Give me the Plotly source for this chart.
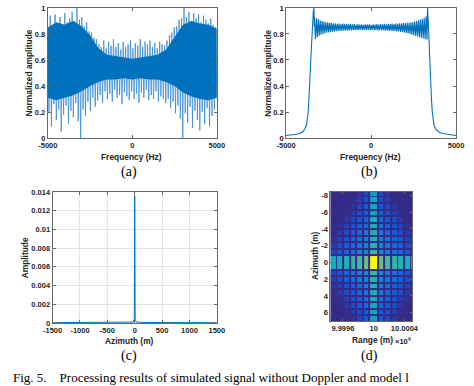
import numpy as np
import plotly.graph_objects as go

# ---------------- data ----------------
# (a) raw spectrum: upper spike tips and lower spike tips (alternating samples)
a_spike_high = [0.82, 0.94, 0.86, 0.95, 0.88, 0.93, 0.87, 0.96, 0.89, 0.92, 0.97, 0.90,
                1.00,
                0.91, 0.93, 0.86, 0.89, 0.82, 0.81, 0.77, 0.76,
                0.72, 0.70, 0.75, 0.69, 0.74, 0.71, 0.76, 0.70, 0.73, 0.68, 0.74, 0.70,
                0.72, 0.75, 0.69, 0.73, 0.71, 0.76, 0.70, 0.74, 0.72, 0.75, 0.70, 0.73,
                0.69, 0.74, 0.72, 0.71,
                0.75, 0.79, 0.81, 0.85, 0.86, 0.91, 0.92,
                1.00,
                0.93, 0.97, 0.90, 0.96, 0.92, 0.95, 0.89, 0.94, 0.91, 0.88, 0.92, 0.87, 0.85]
a_spike_low = [0.20, 0.09, 0.26, 0.14, 0.22, 0.05, 0.18, 0.25, 0.11, 0.21, 0.16, 0.27, 0.13,
               0.00,
               0.22, 0.17, 0.28, 0.21, 0.31, 0.24, 0.29,
               0.33, 0.27, 0.36, 0.30, 0.34, 0.28, 0.37, 0.31, 0.33, 0.26, 0.35, 0.32,
               0.29, 0.36, 0.30, 0.34, 0.27, 0.35, 0.31, 0.37, 0.29, 0.33, 0.30, 0.36,
               0.28, 0.32, 0.30, 0.27,
               0.30, 0.23, 0.28, 0.19, 0.25, 0.15,
               0.00,
               0.19, 0.12, 0.24, 0.08, 0.21, 0.14, 0.06, 0.20, 0.11, 0.23, 0.09, 0.17, 0.22, 0.30]
a_core_freq = [-5000, -4500, -4000, -3500, -3000, -2500, -2000, -1500, -1000, -500, 0,
               500, 1000, 1500, 2000, 2500, 3000, 3500, 4000, 4500, 5000]
a_core_upper = [0.85, 0.89, 0.87, 0.90, 0.86, 0.79, 0.69, 0.64, 0.63, 0.62, 0.61,
                0.62, 0.63, 0.64, 0.68, 0.78, 0.87, 0.90, 0.88, 0.87, 0.84]
a_core_lower = [0.31, 0.29, 0.31, 0.33, 0.36, 0.40, 0.43, 0.45, 0.45, 0.46, 0.45,
                0.46, 0.45, 0.45, 0.43, 0.40, 0.35, 0.32, 0.30, 0.29, 0.31]

# (b) compensated spectrum
b_left_freq = [-5000, -4800, -4600, -4400, -4200, -4100, -4000, -3900, -3800, -3700,
               -3650, -3600, -3550, -3500, -3450, -3400, -3360, -3345]
b_left_amp = [0.02, 0.022, 0.025, 0.03, 0.035, 0.042, 0.05, 0.07, 0.10, 0.20,
              0.30, 0.45, 0.60, 0.75, 0.88, 0.97, 1.00, 0.86]
b_mid_high = [0.93, 0.92, 0.915, 0.905, 0.90, 0.895, 0.89, 0.89, 0.885, 0.885,
              0.88, 0.882, 0.878, 0.88, 0.876, 0.879, 0.875, 0.878, 0.874, 0.877,
              0.873, 0.876, 0.872, 0.875, 0.871, 0.874, 0.87, 0.873, 0.871, 0.874,
              0.87, 0.873, 0.871, 0.875, 0.872, 0.876, 0.873, 0.877, 0.874, 0.878,
              0.875, 0.879, 0.876, 0.88, 0.878, 0.882, 0.88, 0.884, 0.883, 0.887,
              0.886, 0.89, 0.89, 0.895, 0.90, 0.905, 0.91, 0.915, 0.925, 0.935]
b_mid_low = [0.76, 0.775, 0.785, 0.795, 0.80, 0.805, 0.81, 0.812, 0.815, 0.818,
             0.82, 0.822, 0.824, 0.823, 0.826, 0.825, 0.828, 0.826, 0.829, 0.827,
             0.83, 0.828, 0.831, 0.829, 0.832, 0.83, 0.833, 0.831, 0.832, 0.83,
             0.832, 0.829, 0.831, 0.828, 0.83, 0.827, 0.829, 0.826, 0.828, 0.824,
             0.826, 0.822, 0.824, 0.82, 0.82, 0.816, 0.815, 0.81, 0.808, 0.803,
             0.80, 0.795, 0.79, 0.785, 0.78, 0.775, 0.77, 0.765, 0.76, 0.755]
b_right_freq = [3320, 3360, 3400, 3450, 3500, 3550, 3600, 3700, 3800, 3900, 4000,
                4200, 4500, 4800, 5000]
b_right_amp = [1.00, 0.90, 0.75, 0.60, 0.45, 0.30, 0.20, 0.10, 0.07, 0.055, 0.045,
               0.035, 0.03, 0.024, 0.02]

# (c) azimuth profile
c_azimuth = [-1500, -1200, -1000, -800, -750, -500, -200, -30, -8, 0,
             8, 30, 200, 500, 750, 800, 1000, 1200, 1500]
c_amp = [0.00003, 0.00004, 0.00006, 0.00004, 0.00007, 0.00004, 0.00005, 0.0001,
         0.0004, 0.0136, 0.0004, 0.0001, 0.00005, 0.00004,
         0.00007, 0.00004, 0.00006, 0.00004, 0.00003]

# (d) point-target image (dB), lobe bins in metres relative to 1e5 m range
d_range_edges_m = [-5.66, -4.81, -3.96, -3.11, -2.26, -1.41, -0.56, 0.56, 1.41,
                   2.26, 3.11, 3.96, 4.81, 5.66]
d_azimuth_edges_m = [-8.65, -7.87, -7.09, -6.31, -5.53, -4.75, -3.97, -3.19, -2.41,
                     -1.63, -0.85, 0.85, 1.63, 2.41, 3.19, 3.97, 4.75, 5.53, 6.31,
                     7.09, 7.87, 8.65]
d_main_row_db = [-23.5, -22.5, -21.5, -20, -18.5, -16.5, 0, -16.5, -18.5, -20, -21.5, -22.5, -23.5]
d_main_col_db = [-25, -24.5, -24, -23.5, -23, -22.5, -22, -21.5, -21, -19.5, 0,
                 -19.5, -21, -21.5, -22, -22.5, -23, -23.5, -24, -24.5, -25]
d_range_side_db = [-24, -22.2, -20.4, -18.6, -16.8, -15, 0, -15, -16.8, -18.6, -20.4, -22.2, -24]
d_azimuth_side_db = [-22, -21, -20, -19, -18, -17, -16, -15, -14, -13, 0,
                     -13, -14, -15, -16, -17, -18, -19, -20, -21, -22]
d_floor_db = -40   # level of the nulls between lobes

# ---------------- figure ----------------
W, H = 474, 386
BLUE = '#0072BD'
AXC = '#686868'
TXT = '#262626'
SANS = 'Arial, Liberation Sans, sans-serif'
SERIF = 'Times New Roman, Liberation Serif, serif'

def fx(p):
    return p / W

def fy(p):
    return 1 - p / H

def interleave(hi, lo):
    out = []
    for h, l in zip(hi, lo):
        out += [h, l]
    return out

def with_nulls(edges, gap):
    """lobe edges -> edges including a thin null bin at every inner edge"""
    out = [edges[0]]
    for e in edges[1:-1]:
        out += [e - gap / 2, e + gap / 2]
    out.append(edges[-1])
    return out

def spread(values, floor):
    out = []
    for k, v in enumerate(values):
        if k:
            out.append(floor)
        out.append(v)
    return out

fig = go.Figure()

# (a)
a_y = interleave(a_spike_high, a_spike_low)
a_x = np.linspace(-5000, 5000, len(a_y))
fig.add_trace(go.Scatter(x=a_x, y=a_y, mode='lines', line=dict(color='#3b8bd0', width=0.8),
                         xaxis='x', yaxis='y', hoverinfo='skip'))
fig.add_trace(go.Scatter(x=a_core_freq + a_core_freq[::-1], y=a_core_upper + a_core_lower[::-1],
                         mode='lines', fill='toself', fillcolor=BLUE, line=dict(width=0, color=BLUE),
                         xaxis='x', yaxis='y', hoverinfo='skip'))

# (b)
b_mid = interleave(b_mid_high, b_mid_low)
b_x = b_left_freq + list(np.linspace(-3330, 3290, len(b_mid))) + b_right_freq
b_y = b_left_amp + b_mid + b_right_amp
fig.add_trace(go.Scatter(x=b_x, y=b_y, mode='lines', line=dict(color=BLUE, width=1.1),
                         xaxis='x2', yaxis='y2', hoverinfo='skip'))

# (c)
fig.add_trace(go.Scatter(x=c_azimuth, y=c_amp, mode='lines', line=dict(color=BLUE, width=1),
                         xaxis='x3', yaxis='y3', hoverinfo='skip'))

# (d)
ci = d_main_col_db.index(0)
cj = d_main_row_db.index(0)
z_lobes = []
for i in range(len(d_main_col_db)):
    row = []
    for j in range(len(d_main_row_db)):
        if i == ci:
            row.append(d_main_row_db[j])
        elif j == cj:
            row.append(d_main_col_db[i])
        else:
            row.append(d_azimuth_side_db[i] + d_range_side_db[j])
    z_lobes.append(row)
floor_row = [d_floor_db] * (2 * len(d_main_row_db) - 1)
z = []
for k, row in enumerate(z_lobes):
    if k:
        z.append(floor_row)
    z.append(spread(row, d_floor_db))
parula = [[0.0, '#352a87'], [0.125, '#0f5cdd'], [0.25, '#1481d6'], [0.375, '#06a4ca'],
          [0.5, '#2eb7a4'], [0.625, '#87bf77'], [0.75, '#d1bb59'], [0.875, '#fec832'],
          [1.0, '#f9fb0e']]
d_x_edges = [10 + e / 1e4 for e in with_nulls(d_range_edges_m, 0.24)]
d_y_edges = with_nulls(d_azimuth_edges_m, 0.22)
fig.add_trace(go.Heatmap(x=d_x_edges, y=d_y_edges, z=z,
                         colorscale=parula, zmin=d_floor_db, zmax=0, showscale=False,
                         xaxis='x4', yaxis='y4', hoverinfo='skip'))

def axis(domain, rng, tickvals, ticktext, anchor, grid=False, **kw):
    d = dict(domain=domain, range=rng, tickvals=tickvals, ticktext=ticktext, anchor=anchor,
             showline=True, linecolor=AXC, linewidth=1, mirror='ticks', ticks='inside',
             ticklen=3, tickcolor=AXC, tickwidth=1, zeroline=False, showgrid=grid,
             gridcolor='#e4e4e4', gridwidth=1, fixedrange=True,
             tickfont=dict(family=SANS, size=7.5, color=TXT, weight='bold'))
    d.update(kw)
    return d

ya_dom = [fy(137.3), fy(4)]
fig.update_layout(
    width=W, height=H, margin=dict(l=0, r=0, t=0, b=0, pad=0),
    paper_bgcolor='white', plot_bgcolor='white', showlegend=False,
    xaxis=axis([fx(39.3), fx(215)], [-5000, 5000], [-5000, 0, 5000], ['-5000', '0', '5000'], 'y'),
    yaxis=axis(ya_dom, [0, 1], [0, 0.2, 0.4, 0.6, 0.8, 1], ['0', '0.2', '0.4', '0.6', '0.8', '1'], 'x'),
    xaxis2=axis([fx(287), fx(463.7)], [-5000, 5000], [-5000, 0, 5000], ['-5000', '0', '5000'], 'y2'),
    yaxis2=axis(ya_dom, [0, 1], [0, 0.2, 0.4, 0.6, 0.8, 1], ['0', '0.2', '0.4', '0.6', '0.8', '1'], 'x2'),
    xaxis3=axis([fx(44.3), fx(215)], [-1500, 1500], [-1500, -1000, -500, 0, 500, 1000, 1500],
                ['-1500', '-1000', '-500', '0', '500', '1000', '1500'], 'y3', grid=True),
    yaxis3=axis([fy(326.6), fy(192.5)], [0, 0.014], [0, 0.002, 0.004, 0.006, 0.008, 0.01, 0.012, 0.014],
                ['0', '0.002', '0.004', '0.006', '0.008', '0.01', '0.012', '0.014'], 'x3', grid=True),
    xaxis4=axis([fx(333), fx(418)], [10 - 5.63e-4, 10 + 5.0e-4], [9.9996, 10, 10.0004],
                ['9.9996', '10', '10.0004'], 'y4', ticklen=2),
    yaxis4=axis([fy(324.7), fy(192)], [7.0, -8.47], [-8, -6, -4, -2, 0, 2, 4, 6],
                ['-8', '-6', '-4', '-2', '0', '2', '4', '6'], 'x4', ticklen=2),
)

def note(text, x, y, size=8.4, angle=0, family=SANS, bold=True, xanchor='center', yanchor='middle'):
    fig.add_annotation(text=text, x=fx(x), y=fy(y), xref='paper', yref='paper', showarrow=False,
                       textangle=angle, xanchor=xanchor, yanchor=yanchor,
                       font=dict(family=family, size=size, color=TXT if bold else 'black',
                                 weight='bold' if bold else 'normal'))

note('Normalized amplitude', 20, 71, angle=-90)
note('Frequency (Hz)', 126.7, 156.3)
note('Normalized amplitude', 268.7, 71, angle=-90)
note('Frequency (Hz)', 374.7, 156.3)
note('Amplitude', 16, 260, angle=-90)
note('Azimuth (m)', 124, 345)
note('Azimuth (m)', 317, 257, angle=-90)
note('Range (m)', 376.3, 344.3)
note('×10<sup>4</sup>', 408, 345.5, size=7.5)
note('(a)', 123.5, 171.7, size=14, family=SERIF, bold=False)
note('(b)', 374, 171.7, size=14, family=SERIF, bold=False)
note('(c)', 123.5, 360.5, size=14, family=SERIF, bold=False)
note('(d)', 374, 360, size=14, family=SERIF, bold=False)
note('Fig. 5.    Processing results of simulated signal without Doppler and model l',
     1, 373, size=13, family=SERIF, bold=False, xanchor='left', yanchor='top')

fig.write_html('out.html', config={'displayModeBar': False},
               post_script="document.body.style.margin='0';document.body.style.overflow='hidden';")
